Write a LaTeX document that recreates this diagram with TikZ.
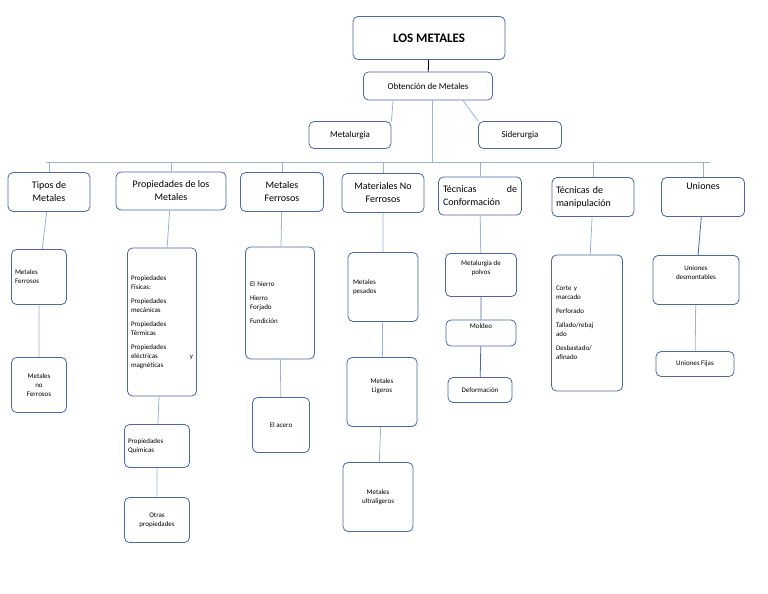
\documentclass[tikz,border=0pt]{standalone}
\usepackage{fontspec}
\setmainfont{Carlito}
\definecolor{boxblue}{HTML}{4A67A6}
\definecolor{linkblue}{HTML}{9AB3DE}
\tikzset{
  caja/.style={draw=boxblue, thick, rounded corners=5pt, fill=white, inner sep=2pt, font=\fontsize{10}{13}\selectfont, align=center},
  hoja/.style={caja, font=\fontsize{7}{9}\selectfont},
  enlace/.style={linkblue, thick}
}
\begin{document}
\begin{tikzpicture}[x=1pt,y=-1pt]
    \useasboundingbox (0,0) rectangle (768,594);
    % cabecera
    \node[caja, minimum width=152, minimum height=43, font=\fontsize{13}{15}\selectfont\bfseries] (tit) at (429,38) {LOS METALES};
    \node[caja, minimum width=129, minimum height=28, font=\fontsize{9}{11}\selectfont] (obt) at (428,86) {Obtención de Metales};
    \node[caja, minimum width=82, minimum height=27, font=\fontsize{9}{11}\selectfont] (meta) at (350,135) {Metalurgia};
    \node[caja, minimum width=83, minimum height=27, font=\fontsize{9}{11}\selectfont] (side) at (520,135) {Siderurgia};
    \draw[black, thick] (tit) -- (obt);
    \draw[enlace] (obt.south west) ++(30,0) coordinate (oA) -- (meta.north east);
    \draw[enlace] (obt.south east) ++(-30,0) coordinate (oB) -- (side.north west);
    \coordinate (bus) at (432,162);
    \draw[enlace] (obt.south) ++(4,0) -- (bus);
    \draw[enlace] (46,162) coordinate (busW) -- (710,162) coordinate (busE);
    % fila principal
    \node[caja, minimum width=82, minimum height=39] (tipos) at (49,192) {Tipos de\\Metales};
    \node[caja, minimum width=110, minimum height=38] (prop) at (171,191) {Propiedades de los\\Metales};
    \node[caja, minimum width=83, minimum height=39] (ferr) at (282,192) {Metales\\Ferrosos};
    \node[caja, minimum width=82, minimum height=39] (noferr) at (383,193) {Materiales No\\Ferrosos};
    \node[caja, minimum width=83, minimum height=38, text width=74, align=justify] (conf) at (480,196) {Técnicas\hfill de\\Conformación};
    \node[caja, minimum width=82, minimum height=39, text width=74, align=left] (mani) at (593,197) {Técnicas de\\manipulación};
    \node[caja, minimum width=83, minimum height=39] (unio) at (703,197) {Uniones\\[8pt]};
    \foreach \n in {tipos,prop,ferr,noferr,conf,mani,unio}
      \draw[enlace] (\n.north |- bus) -- (\n.north);
    % hijos
    \node[hoja, minimum width=55, minimum height=55, text width=48, align=left] (tmf) at (39,277) {Metales\\Ferrosos\\[14pt]};
    \node[hoja, minimum width=55, minimum height=55] (tmn) at (39,385) {Metales\\no\\Ferrosos};
    \node[hoja, minimum width=69, minimum height=148, text width=62, align=left] (pfis) at (162,322) {Propiedades\\Físicas:\\[5pt]Propiedades\\mecánicas\\[5pt]Propiedades\\Térmicas\\[5pt]Propiedades\\eléctricas\hfill y\\magnéticas\\[6pt]};
    \node[hoja, minimum width=65, minimum height=43, text width=58, align=left] (pqui) at (157,446) {Propiedades\\Químicas};
    \node[hoja, minimum width=65, minimum height=45] (potr) at (157,520) {Otras\\propiedades};
    \node[hoja, minimum width=69, minimum height=112, text width=60, align=left] (hier) at (280,303) {El hierro\\[5pt]Hierro\\Forjado\\[5pt]Fundición\\[12pt]};
    \node[hoja, minimum width=57, minimum height=55] (acer) at (281,425) {El acero};
    \node[hoja, minimum width=70, minimum height=69, text width=60, align=left] (pesa) at (383,287) {Metales\\pesados\\[20pt]};
    \node[hoja, minimum width=70, minimum height=69] (lige) at (382,392) {Metales\\Ligeros\\[4pt]};
    \node[hoja, minimum width=70, minimum height=69] (ultr) at (378,497) {Metales\\ultraligeros};
    \node[hoja, minimum width=71, minimum height=43] (polv) at (481,275) {Metalurgia de\\polvos\\[6pt]};
    \node[hoja, minimum width=70, minimum height=26] (mold) at (481,333) {Moldeo\\[4pt]};
    \node[hoja, minimum width=64, minimum height=25] (defo) at (480,390) {Deformación};
    \node[hoja, minimum width=71, minimum height=136, text width=62, align=left] (cort) at (587,323) {Corte y\\marcado\\[5pt]Perforado\\[5pt]Tallado/rebaj\\ado\\[5pt]Desbastado/\\afinado\\[14pt]};
    \node[hoja, minimum width=86, minimum height=49] (desm) at (696,280) {Uniones\\desmontables\\[6pt]};
    \node[hoja, minimum width=78, minimum height=25] (fija) at (695,364) {Uniones Fijas};
    % enlaces
    \draw[enlace] (tipos) -- (tmf) -- (tmn);
    \draw[enlace] (prop) -- (pfis) -- (pqui) -- (potr);
    \draw[enlace] (ferr) -- (hier) -- (acer);
    \draw[enlace] (noferr) -- (pesa) -- (lige) -- (ultr);
    \draw[enlace] (conf) -- (polv);
    \draw[boxblue, thick] (polv) -- (mold) -- (defo);
    \draw[enlace] (mani) -- (cort);
    \draw[boxblue, thick] (unio) -- (desm);
    \draw[enlace] (desm) -- (fija);
\end{tikzpicture}
\end{document}
